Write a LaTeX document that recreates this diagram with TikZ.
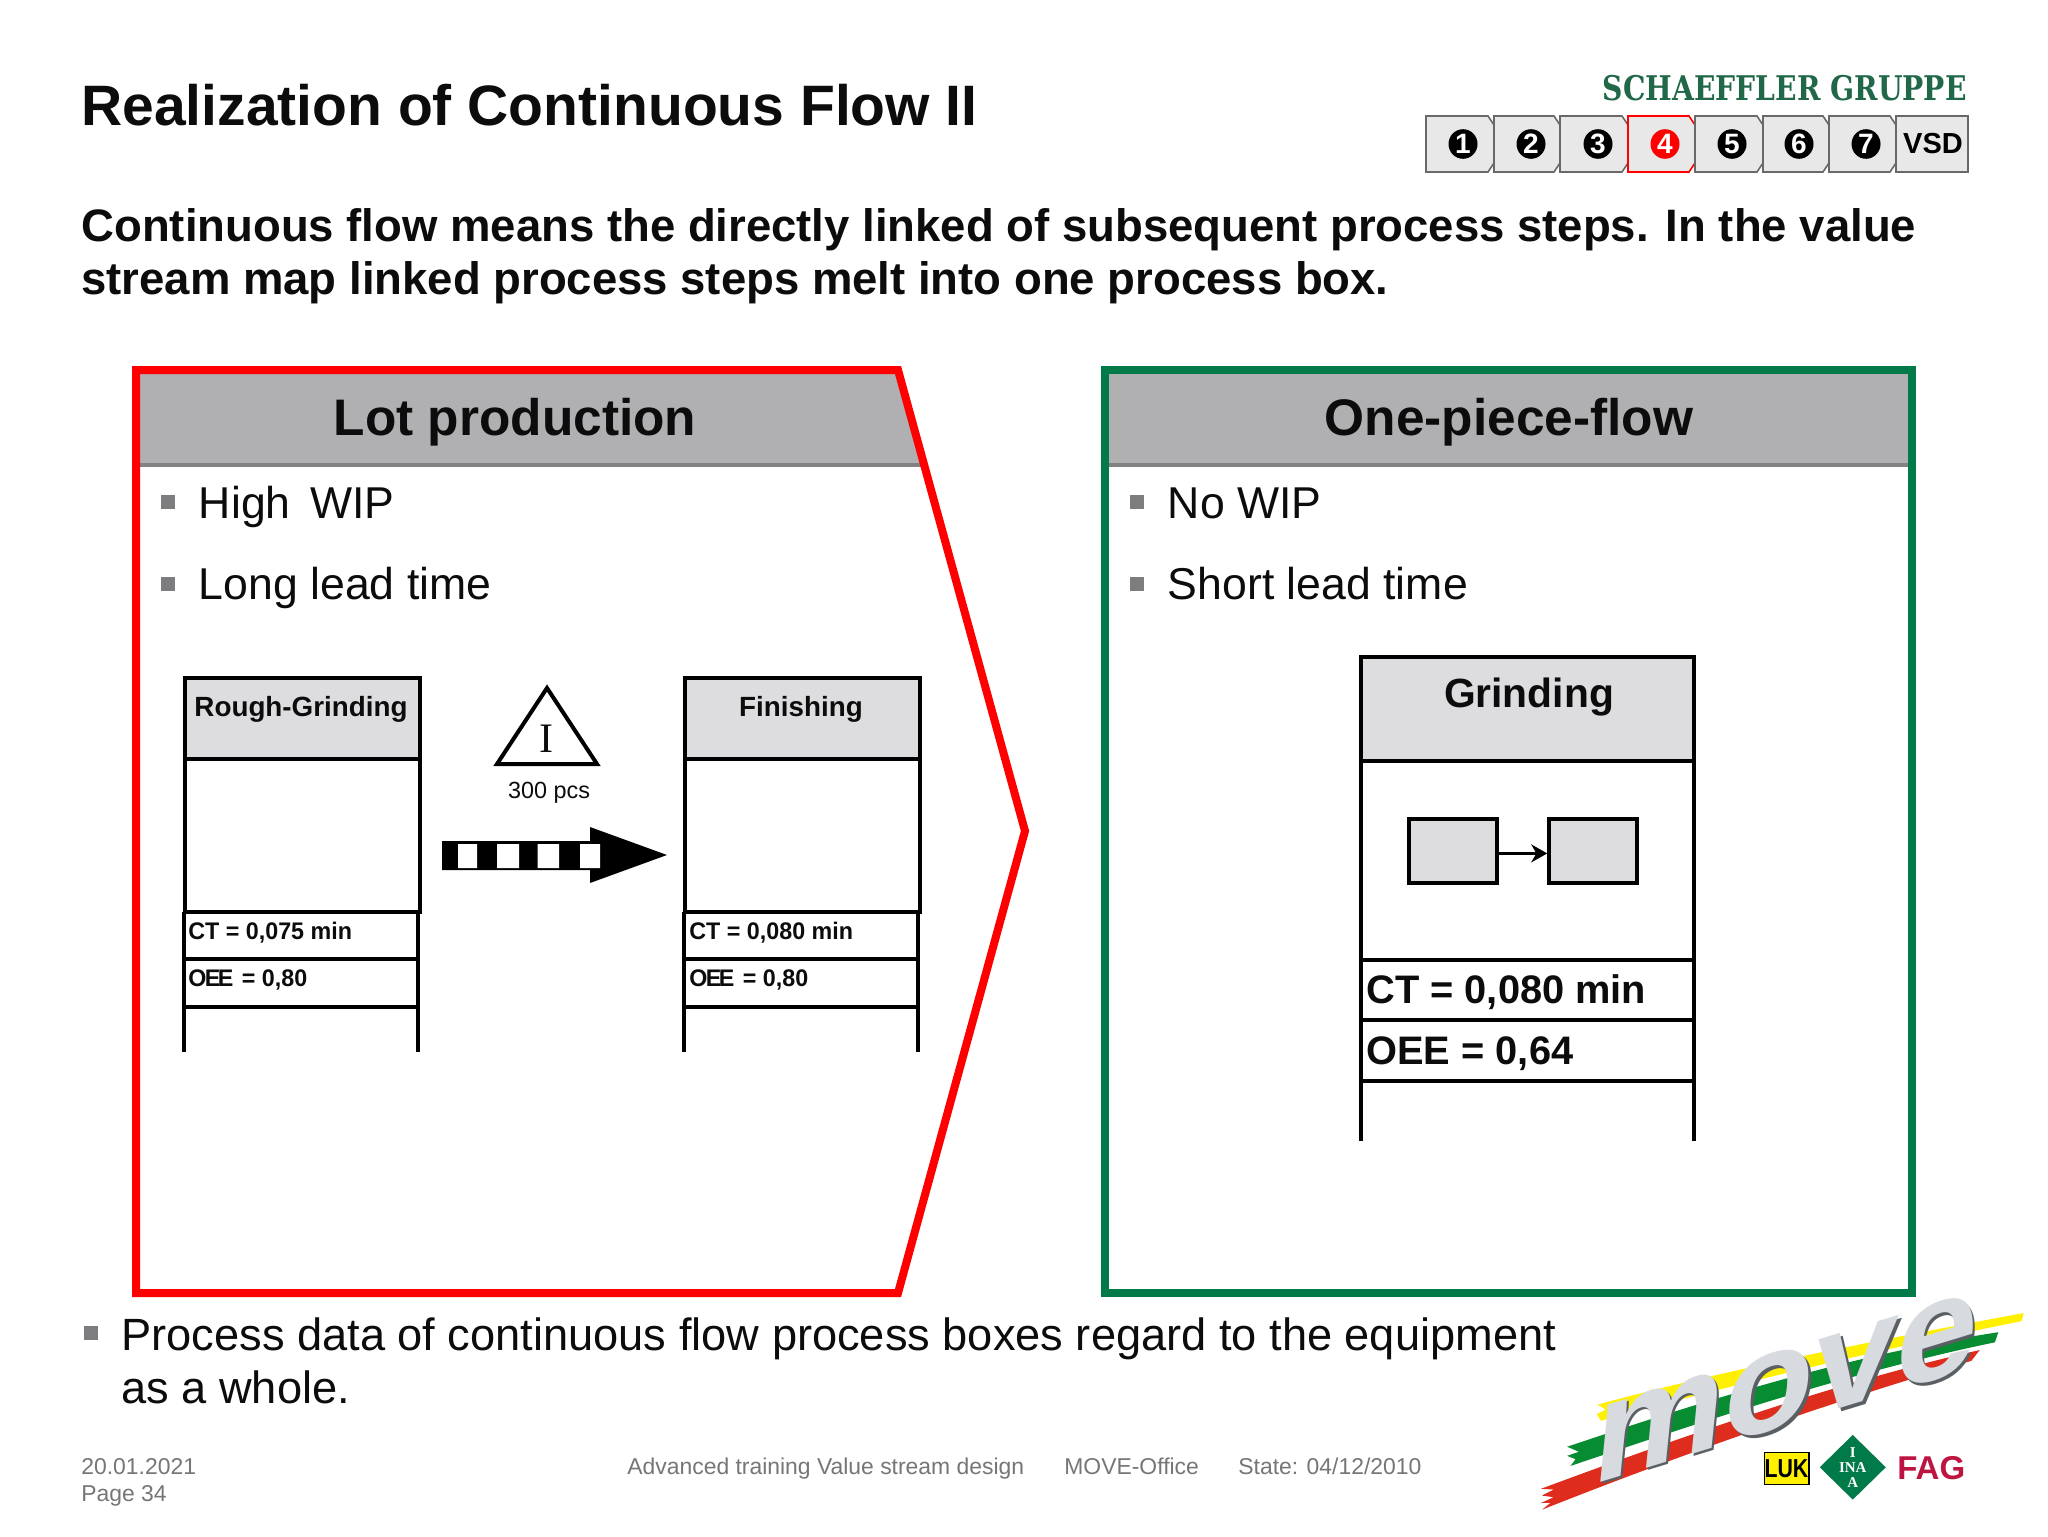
\documentclass[tikz,border=0pt]{standalone}
\usepackage{fontspec}
\setmainfont{Liberation Sans}
\newfontfamily\slabfont{DejaVu Serif}
\newfontfamily\serfont{Liberation Serif}
\usetikzlibrary{shapes.geometric,arrows.meta}
\newcommand\fs[1]{\fontsize{#1}{#1}\selectfont}
\definecolor{hdr}{RGB}{176,175,178}
\definecolor{hdrline}{RGB}{130,130,132}
\definecolor{boxgray}{RGB}{221,220,223}
\definecolor{navfill}{RGB}{232,232,232}
\definecolor{navline}{RGB}{105,105,105}
\definecolor{pgreen}{RGB}{0,122,72}
\definecolor{foot}{RGB}{118,118,118}
\definecolor{bul}{RGB}{125,125,128}
\definecolor{txt}{RGB}{12,12,12}
\definecolor{sgreen}{RGB}{32,104,72}
\definecolor{lgred}{RGB}{222,45,28}
\definecolor{lggreen}{RGB}{8,140,50}
\definecolor{lgyellow}{RGB}{255,240,0}
\definecolor{lgtext}{RGB}{215,218,222}
\definecolor{lgshadow}{RGB}{90,95,100}
\definecolor{fagred}{RGB}{190,20,65}
\newcommand\oeeword{O\kern-0.9pt E\kern-1.2pt E}
\tikzset{
  lbl/.style={anchor=base west,inner sep=0pt,text=txt},
  ctr/.style={anchor=base,inner sep=0pt,text=txt},
  bulletsq/.style={fill=bul,inner sep=0pt,minimum size=7pt},
  hdrbar/.style={fill=hdr},
  panel/.style={line width=4pt,miter limit=10},
  heavy/.style={line width=2pt,draw=black},
  rulethin/.style={line width=1.6pt,draw=black},
  smallhead/.style={fill=boxgray,draw=black,line width=2.4pt},
  innerbox/.style={fill=boxgray,draw=black,line width=1.8pt,minimum width=44pt,minimum height=32pt,inner sep=0pt},
  navcircle/.style={ellipse,fill=#1,text=white,inner sep=0pt,minimum width=14.5pt,minimum height=14.8pt,font=\fs{14}\bfseries},
  footer/.style={anchor=base west,inner sep=0pt,text=foot,font=\fs{11.45}},
  small/.style={lbl,font=\fs{12}\bfseries,xscale=0.97},
}
\begin{document}
\begin{tikzpicture}[x=0.5pt,y=-0.5pt]
\useasboundingbox (0,0) rectangle (2048,1536);
\fill[white] (0,0) rectangle (2048,1536);

% title
\node[lbl,font=\fs{28.5}\bfseries] (title) at (81,126) {Realization of Continuous Flow II};
\node[lbl,font=\fs{22.75}\bfseries] (sub1) at (81,241) {Continuous flow means the directly linked of subsequent process steps. In the value};
\node[lbl,font=\fs{22.75}\bfseries] (sub2) at (81,294) {stream map linked process steps melt into one process box.};

% company name
\node[anchor=base east,inner sep=0pt,text=sgreen,xscale=0.83,font=\slabfont\fs{17}\bfseries] (sg) at (1967,101) {SCHAEFFLER GRUPPE};

% navigation
\foreach \a/\b/\c in {1426/1494/navline,1494/1560/navline,1560/1628/navline,1628/1695/red,1695/1763/navline,1763/1829/navline,1829/1896/navline}{
  \draw[fill=navfill,draw=\c,line width=0.8pt] (\a,116) -- (\b-6,116) -- (\b,125) -- (\b,163) -- (\b-6,172) -- (\a,172) -- cycle;
}
\draw[fill=navfill,draw=navline,line width=0.8pt] (1896,116) rectangle (1968,172);
\foreach \n/\x/\c in {1/1463/black,2/1531/black,3/1598/black,4/1665/red,5/1732/black,6/1799/black,7/1866/black}{
  \node[navcircle=\c] (nav\n) at (\x,144) {\n};
}
\node[ctr,text=black,font=\fs{14.5}\bfseries] (vsd) at (1933,154) {VSD};

% left panel
\fill[hdrbar] (136,370) -- (898,370) -- (923,465) -- (136,465) -- cycle;
\draw[hdrline,line width=2pt] (138,465) -- (922,465);
\draw[red,panel,fill=none] (136,370) -- (898,370) -- (1025,831) -- (898,1293) -- (136,1293) -- cycle;
\node[ctr,font=\fs{25.7}\bfseries] (lot) at (515,435) {Lot production};
\node[bulletsq] (b1) at (168,502) {};
\node[lbl,font=\fs{22.3}] (t1) at (198.5,518) {High\ \,WIP};
\node[bulletsq] (b2) at (168,584) {};
\node[lbl,font=\fs{22.3}] (t2) at (198.5,599) {Long lead time};

% rough grinding
\filldraw[smallhead] (185,678) rectangle (420,759);
\draw[heavy] (185,759) -- (185,912) -- (420,912) -- (420,759);
\draw[rulethin] (184,912) -- (184,1052) (418,912) -- (418,1052) (184,959) -- (418,959) (184,1007) -- (418,1007);
\node[ctr,font=\fs{13.9}\bfseries] (rg) at (301,716) {Rough-Grinding};
\node[small] (ct1) at (188,939) {CT = 0,075 min};
\node[small] (oee1) at (188,986) {\oeeword\ \kern1pt= 0,80};

% finishing
\filldraw[smallhead] (685,678) rectangle (920,759);
\draw[heavy] (685,759) -- (685,912) -- (920,912) -- (920,759);
\draw[rulethin] (684,912) -- (684,1052) (918,912) -- (918,1052) (684,959) -- (918,959) (684,1007) -- (918,1007);
\node[ctr,font=\fs{13.9}\bfseries] (fin) at (801,716) {Finishing};
\node[small] (ct2) at (689,939) {CT = 0,080 min};
\node[small] (oee2) at (689,986) {\oeeword\ \kern1pt= 0,80};

% inventory
\draw[black,line width=2pt,line join=miter,fill=white] (547,688) -- (597,764) -- (497,764) -- cycle;
\node[anchor=center,inner sep=0pt,text=txt,font=\serfont\fs{21}] (inv) at (546,739) {I};
\node[ctr,font=\fs{11.7}] (pcs) at (549,798) {300 pcs};

% push arrow
\fill[black] (442,841) -- (590,841) -- (590,827) -- (667,855) -- (590,883) -- (590,870) -- (442,870) -- cycle;
\fill[white] (458,844) rectangle (477,868) (497,844) rectangle (519,868) (537.5,844) rectangle (559,868) (580,844) rectangle (600,868);

% right panel
\fill[hdrbar] (1105,370) rectangle (1912,465);
\draw[hdrline,line width=2pt] (1107,465) -- (1910,465);
\draw[pgreen,panel,fill=none] (1105,370) rectangle (1912,1293);
\node[ctr,font=\fs{25.7}\bfseries] (opf) at (1509,435) {One-piece-flow};
\node[bulletsq] (b3) at (1137,502) {};
\node[lbl,font=\fs{22.3}] (t3) at (1167.5,518) {No\ WIP};
\node[bulletsq] (b4) at (1137,584) {};
\node[lbl,font=\fs{22.3}] (t4) at (1167.5,599) {Short lead time};

% grinding
\filldraw[smallhead] (1361,657) rectangle (1694,761);
\draw[heavy] (1361,761) -- (1361,960) -- (1694,960) -- (1694,761);
\draw[heavy] (1361,960) -- (1361,1141) (1694,960) -- (1694,1141);
\draw[rulethin] (1361,1020) -- (1694,1020) (1361,1081) -- (1694,1081);
\node[ctr,font=\fs{20.4}\bfseries] (gr) at (1529,707) {Grinding};
\node[innerbox] (g1) at (1453,851) {};
\node[innerbox] (g2) at (1593,851) {};
\draw[black,line width=1.6pt,-{Stealth[length=8pt,width=9pt]}] ([yshift=-1.2pt]g1.east) -- ([yshift=-1.2pt]g2.west);
\node[lbl,font=\fs{19.9}\bfseries] (ct3) at (1366,1003) {CT = 0,080 min};
\node[lbl,font=\fs{19.9}\bfseries] (oee3) at (1366,1064) {OEE = 0,64};

% bottom remark
\node[bulletsq] (b5) at (91,1333) {};
\node[lbl,font=\fs{22.6}] (t5) at (121,1350) {Process data of continuous flow process boxes regard to the equipment};
\node[lbl,font=\fs{22.6}] (t6) at (121,1403) {as a whole.};

% footer
\node[footer] (f1) at (81,1474) {20.01.2021};
\node[footer] (f2) at (81,1501) {Page 34};
\node[footer] (f3) at (627,1474) {Advanced training Value stream design};
\node[footer] (f4) at (1064,1474) {MOVE-Office};
\node[footer] (f5) at (1238,1474) {State: 04/12/2010};

% logo
\begin{scope}[shift={(1520,1280)},x=0.1684pt,y=-0.1684pt]
  \fill[lgyellow] (1495,98) .. controls (1000,190) and (600,270) .. (230,370) -- (255,385) -- (228,398) -- (240,418) .. controls (600,320) and (1000,220) .. (1490,122) -- cycle;
  \fill[lggreen] (1420,155) .. controls (1000,220) and (600,340) .. (140,495) -- (175,510) -- (140,522) -- (165,532) -- (150,552) .. controls (600,400) and (1000,270) .. (1410,185) -- cycle;
  \fill[lgred] (1365,208) .. controls (1000,290) and (600,420) .. (62,620) -- (100,622) -- (65,640) -- (100,645) -- (62,662) -- (90,662) -- (65,682) .. controls (500,510) and (900,370) .. (1340,240) -- cycle;
  \node[rotate=17,xslant=0.42,xscale=1.13,inner sep=0pt,text=lgshadow,font=\fs{68}\bfseries] at (797,328) {move};
  \node[rotate=17,xslant=0.42,xscale=1.13,inner sep=0pt,text=lgtext,font=\fs{68}\bfseries] (mv) at (790,320) {move};
  \filldraw[fill=lgyellow,draw=black,line width=0.6pt] (725,512) rectangle (858,608);
  \node[inner sep=0pt,text=black,xscale=0.82,font=\fs{13}\bfseries] (luk) at (791,560) {LUK};
  \fill[pgreen] (988,460) -- (1086,556) -- (988,652) -- (890,556) -- cycle;
  \node[inner sep=0pt,text=white,align=center,font=\serfont\fs{7.5}\bfseries] (ina) at (988,556) {I\\INA\\A};
  \node[inner sep=0pt,text=fagred,font=\fs{16.5}\bfseries] (fag) at (1221,559) {FAG};
\end{scope}
\end{tikzpicture}
\end{document}
